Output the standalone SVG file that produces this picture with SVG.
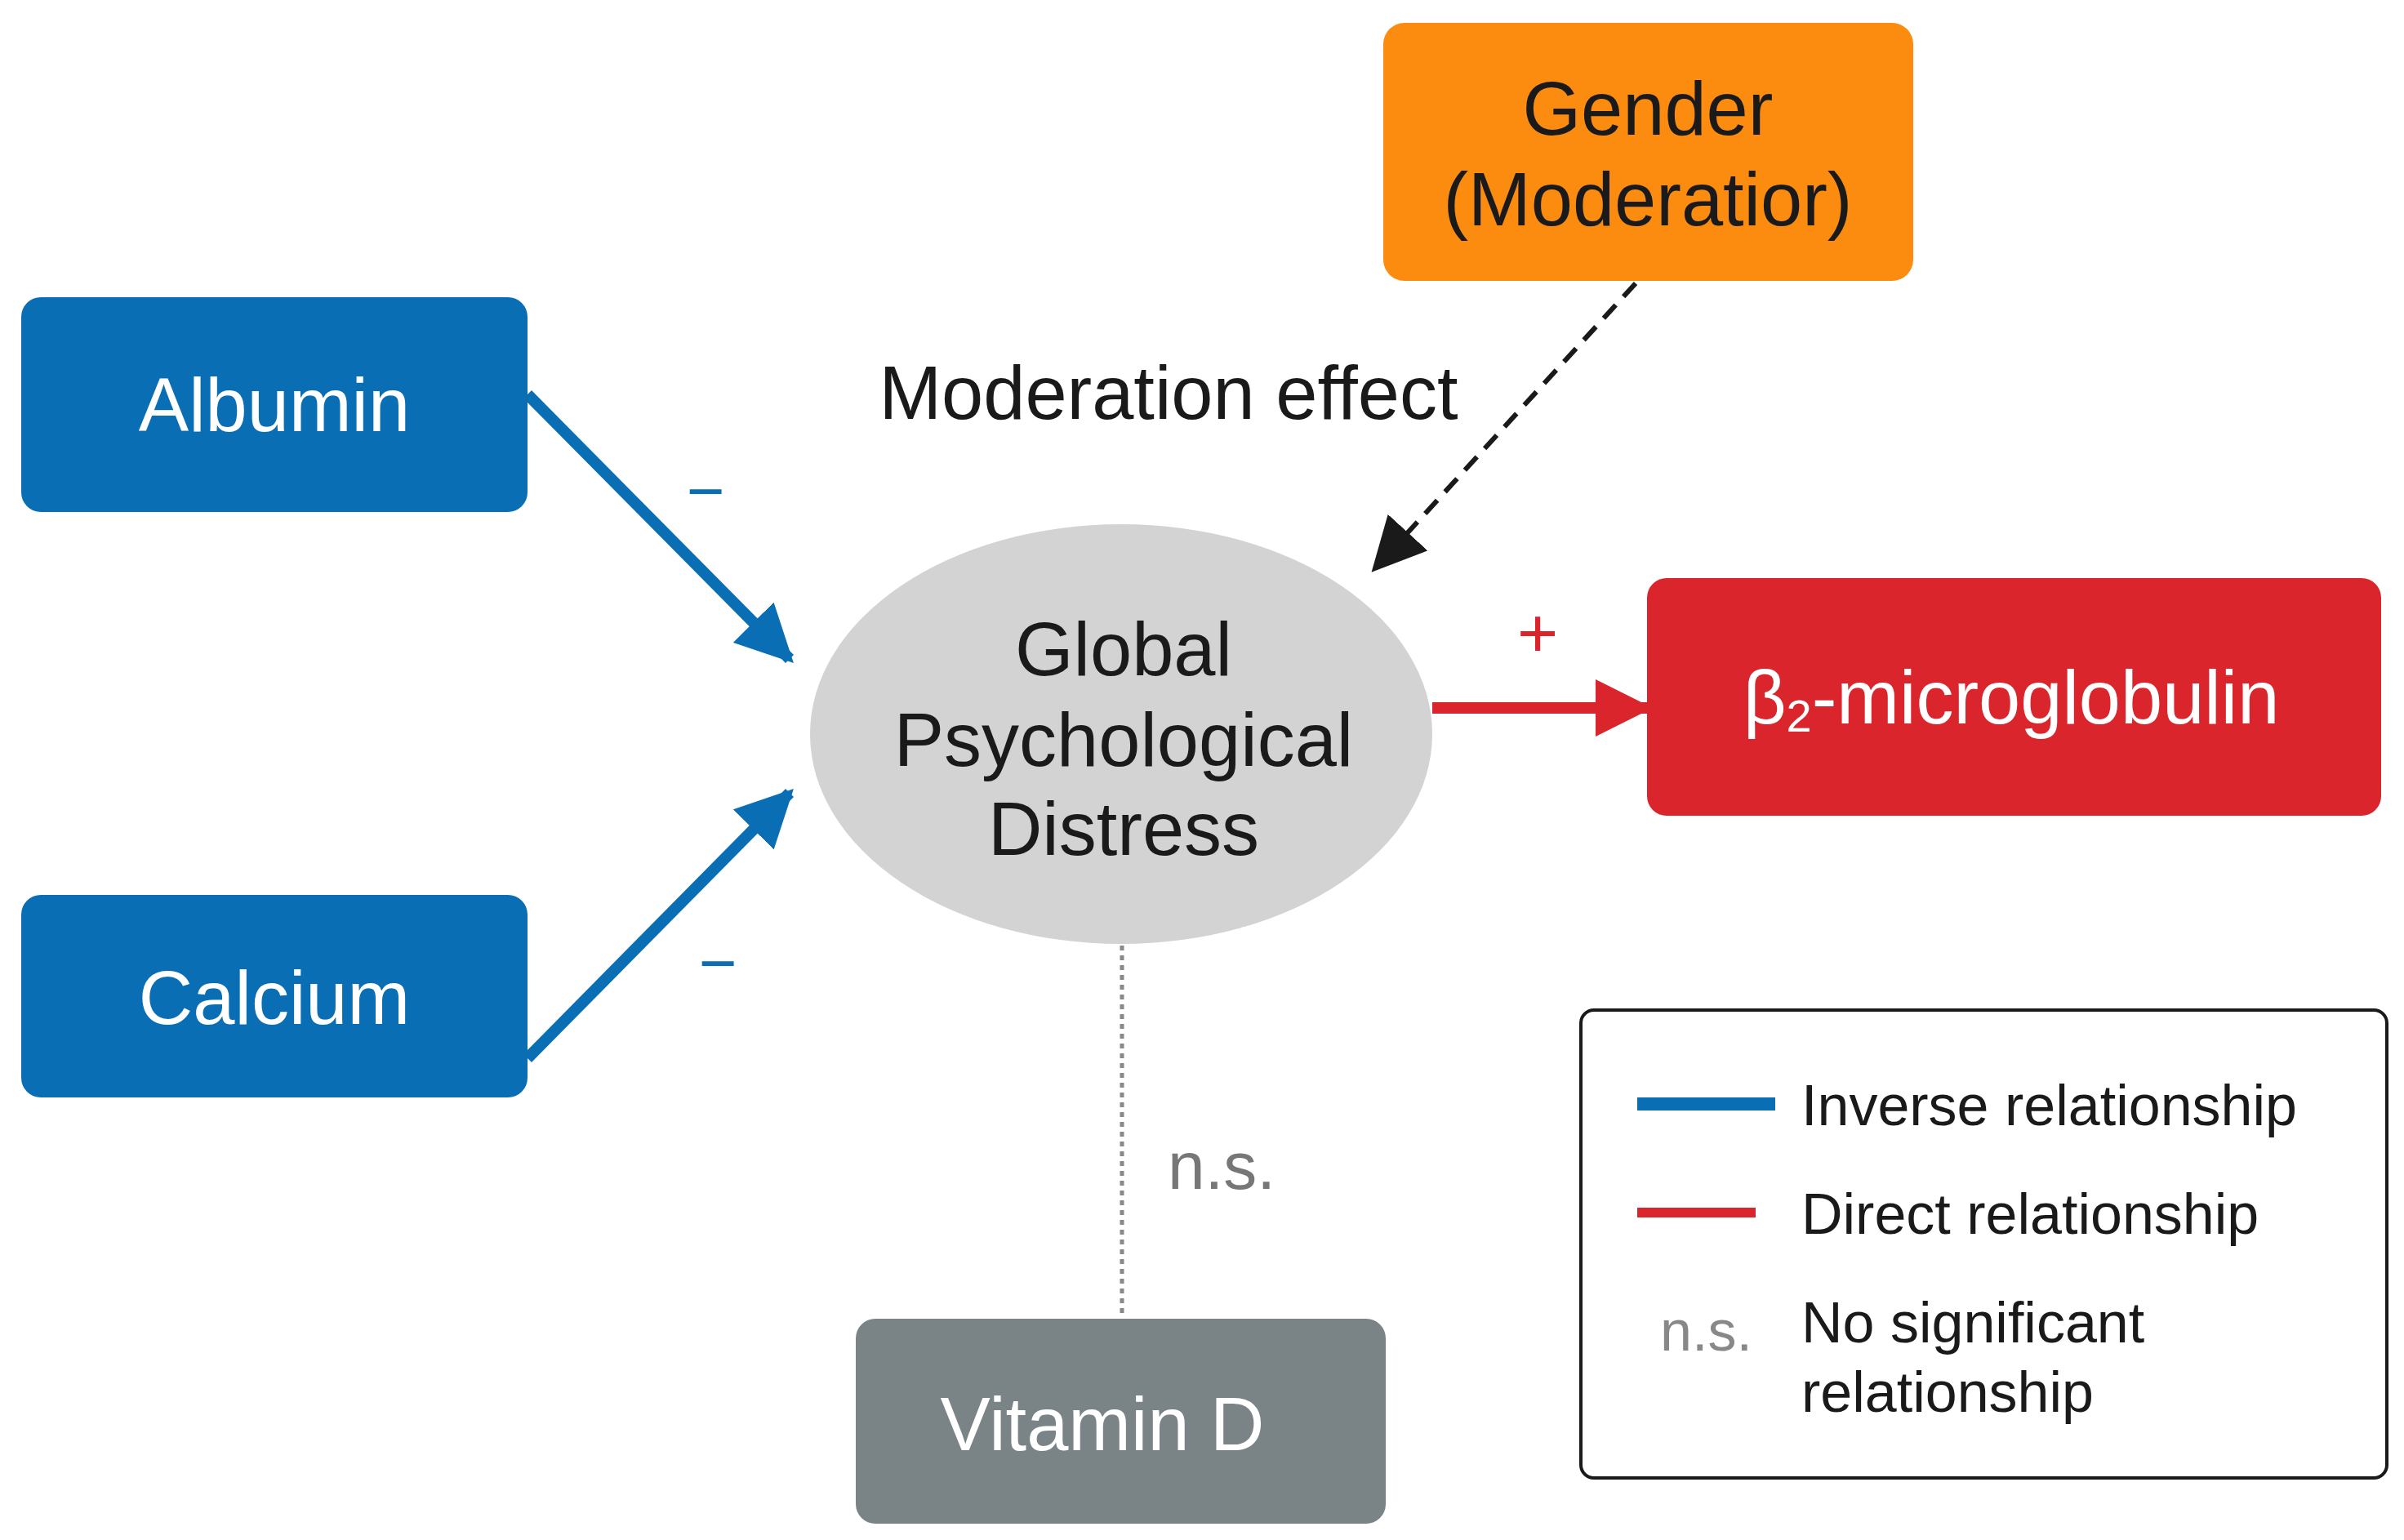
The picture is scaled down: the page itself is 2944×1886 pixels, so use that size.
<svg xmlns="http://www.w3.org/2000/svg" width="2944" height="1886" viewBox="0 0 2944 1886">
<style>
text{font-family:"Liberation Sans",Arial,sans-serif;}
.w{fill:#fff;text-anchor:middle;dominant-baseline:central;font-size:92px;}
.k{fill:#1a1a1a;text-anchor:middle;dominant-baseline:central;font-size:92px;}
.lg{fill:#1a1a1a;font-size:70px;dominant-baseline:central;}
</style>
<defs>
<marker id="ab" viewBox="0 0 10 10" refX="9" refY="5" markerWidth="5" markerHeight="5" orient="auto" markerUnits="strokeWidth"><path d="M0,0L10,5L0,10z" fill="#0A6EB4"/></marker>
<marker id="ar" viewBox="0 0 10 10" refX="9" refY="5" markerWidth="5" markerHeight="5" orient="auto" markerUnits="strokeWidth"><path d="M0,0L10,5L0,10z" fill="#D9252B"/></marker>
<marker id="ak" viewBox="0 0 10 10" refX="9" refY="5" markerWidth="11" markerHeight="11" orient="auto" markerUnits="strokeWidth"><path d="M0,0L10,5L0,10z" fill="#1a1a1a"/></marker>
</defs>
<rect width="2944" height="1886" fill="#fff"/>
<g id="connectors">
<line x1="646" y1="483" x2="967" y2="807" stroke="#0A6EB4" stroke-width="14" marker-end="url(#ab)"/>
<line x1="646" y1="1296" x2="967" y2="971" stroke="#0A6EB4" stroke-width="14" marker-end="url(#ab)"/>
<line x1="1754" y1="867" x2="2017" y2="867" stroke="#D9252B" stroke-width="14" marker-end="url(#ar)"/>
<line x1="2003" y1="347" x2="1684" y2="696" stroke="#1a1a1a" stroke-width="6" stroke-dasharray="22,14" marker-end="url(#ak)"/>
<line x1="1374" y1="1158" x2="1374" y2="1613" stroke="#888" stroke-width="5" stroke-dasharray="6,6"/>
<text x="864" y="601" fill="#0A6EB4" font-size="80" text-anchor="middle" dominant-baseline="central">−</text>
<text x="879" y="1179" fill="#0A6EB4" font-size="80" text-anchor="middle" dominant-baseline="central">−</text>
<text x="1883" y="775" fill="#D9252B" font-size="86" text-anchor="middle" dominant-baseline="central">+</text>
<text x="1431" y="481" class="k" font-size="76">Moderation effect</text>
<text x="1496" y="1427" fill="#777" font-size="82" text-anchor="middle" dominant-baseline="central">n.s.</text>
</g>
<g id="gender"><rect x="1694" y="28" width="649" height="316" rx="26" fill="#FB8C10"/>
<text x="2018" y="133" class="k" font-size="88">Gender</text><text x="2018" y="244" class="k" font-size="88">(Moderatior)</text></g>
<g id="albumin"><rect x="26" y="364" width="620" height="263" rx="24" fill="#0A6EB4"/><text x="336" y="496" class="w">Albumin</text></g>
<g id="calcium"><rect x="26" y="1096" width="620" height="248" rx="24" fill="#0A6EB4"/><text x="336" y="1222" class="w">Calcium</text></g>
<g id="distress"><ellipse cx="1373" cy="899" rx="381" ry="257" fill="#D3D3D3"/>
<text x="1376" y="795" class="k">Global</text><text x="1376" y="906" class="k">Psychological</text><text x="1376" y="1015" class="k">Distress</text></g>
<g id="b2m"><rect x="2017" y="708" width="899" height="291" rx="24" fill="#D9252B"/>
<text x="2463" y="854" class="w">β<tspan font-size="56" dy="22">2</tspan><tspan dy="-22">-microglobulin</tspan></text></g>
<g id="vitd"><rect x="1048" y="1615" width="649" height="251" rx="24" fill="#7A8487"/><text x="1350" y="1744" class="w">Vitamin D</text></g>
<g id="legend"><rect x="1936" y="1237" width="987" height="573" rx="16" fill="#fff" stroke="#1a1a1a" stroke-width="4"/>
<line x1="2005" y1="1352" x2="2174" y2="1352" stroke="#0A6EB4" stroke-width="16"/>
<text x="2206" y="1354" class="lg">Inverse relationship</text>
<line x1="2005" y1="1485" x2="2150" y2="1485" stroke="#D9252B" stroke-width="12"/>
<text x="2206" y="1487" class="lg">Direct relationship</text>
<text x="2033" y="1630" fill="#888" font-size="70" dominant-baseline="central">n.s.</text>
<text x="2206" y="1620" class="lg">No significant</text>
<text x="2206" y="1705" class="lg">relationship</text></g>
</svg>
